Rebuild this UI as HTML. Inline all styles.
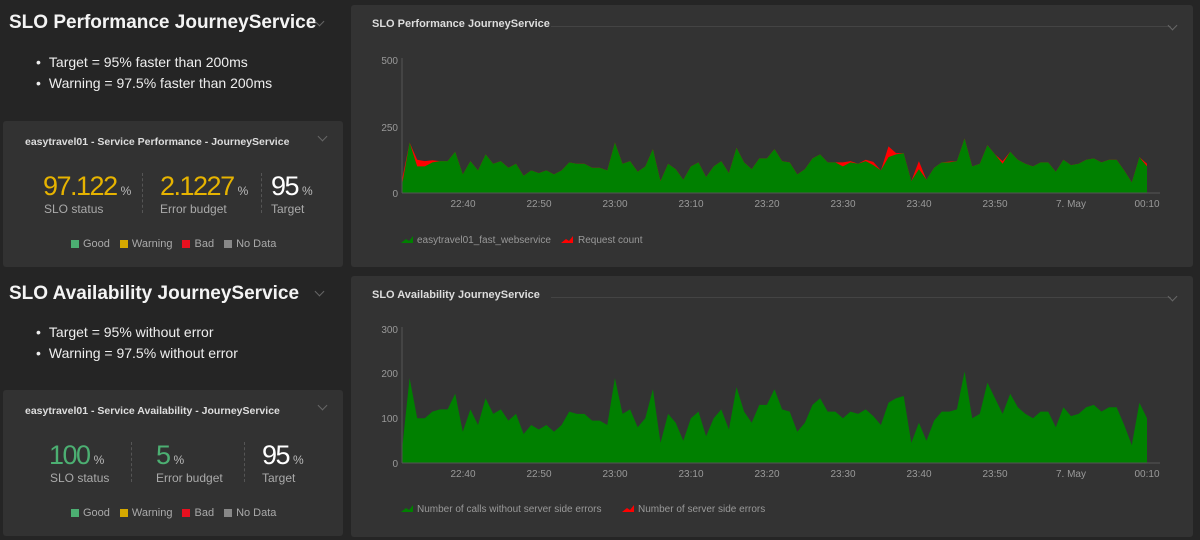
<!DOCTYPE html>
<html><head><meta charset="utf-8">
<style>
*{margin:0;padding:0;box-sizing:border-box}
body{width:1200px;height:540px;background:#252525;font-family:"Liberation Sans",sans-serif;color:#fff;position:relative;overflow:hidden}
.abs{position:absolute}
.h{font-size:19px;font-weight:bold;left:9px;color:#f4f4f4}
.bul{left:36px;font-size:14px;line-height:21px;color:#eee}
.bul div::before{content:"•";margin-right:8px}
.tile{left:3px;width:340px;height:146px;background:#323232;border-radius:3px}
.tt{position:absolute;left:22px;top:15px;font-size:10.5px;font-weight:bold;color:#ddd}
.num{position:absolute;font-size:27px;letter-spacing:-1.5px}
.num span{font-size:12px;color:#bbb;margin-left:4px;letter-spacing:0}
.lab{position:absolute;font-size:12px;color:#aaa}
.sep{position:absolute;width:0;height:40px;border-left:1px dashed #555}
.leg{position:absolute;top:117px;left:68px;font-size:11px;color:#aaa}
.leg i{display:inline-block;width:8px;height:8px;margin:0 4px 0 0;vertical-align:-1px}
.leg b{font-weight:normal;margin-right:10px}
.panel{left:351px;width:842px;background:#333;border-radius:3px}
.ptitle{position:absolute;left:21px;top:13px;font-size:11px;font-weight:bold;color:#ddd}
.chev{position:absolute;width:7px;height:7px;border-right:1px solid #666;border-bottom:1px solid #666;transform:rotate(45deg)}
</style></head><body>
<div class="abs h" style="top:12px">SLO Performance JourneyService</div>
<div class="chev" style="left:316px;top:18px"></div>
<div class="abs bul" style="top:52px"><div>Target = 95% faster than 200ms</div><div>Warning = 97.5% faster than 200ms</div></div>
<div class="abs tile" style="top:121px">
 <div class="tt">easytravel01 - Service Performance - JourneyService</div>
 <div class="chev" style="left:316px;top:12px"></div>
 <div class="num" style="left:40px;top:50px;color:#e6b300">97.122<span>%</span></div>
 <div class="lab" style="left:41px;top:81px">SLO status</div>
 <div class="sep" style="left:139px;top:52px"></div>
 <div class="num" style="left:157px;top:50px;color:#e6b300">2.1227<span>%</span></div>
 <div class="lab" style="left:157px;top:81px">Error budget</div>
 <div class="sep" style="left:258px;top:52px"></div>
 <div class="num" style="left:268px;top:50px;color:#fff">95<span>%</span></div>
 <div class="lab" style="left:268px;top:81px">Target</div>
 <div class="leg"><i style="background:#4caf72"></i><b>Good</b><i style="background:#d4a800"></i><b>Warning</b><i style="background:#e8101f"></i><b>Bad</b><i style="background:#888"></i><b>No Data</b></div>
</div>

<div class="abs h" style="top:283px">SLO Availability JourneyService</div>
<div class="chev" style="left:316px;top:288px"></div>
<div class="abs bul" style="top:322px"><div>Target = 95% without error</div><div>Warning = 97.5% without error</div></div>
<div class="abs tile" style="top:390px">
 <div class="tt">easytravel01 - Service Availability - JourneyService</div>
 <div class="chev" style="left:316px;top:12px"></div>
 <div class="num" style="left:46px;top:50px;color:#4caf72">100<span>%</span></div>
 <div class="lab" style="left:47px;top:81px">SLO status</div>
 <div class="sep" style="left:128px;top:52px"></div>
 <div class="num" style="left:153px;top:50px;color:#4caf72">5<span>%</span></div>
 <div class="lab" style="left:153px;top:81px">Error budget</div>
 <div class="sep" style="left:241px;top:52px"></div>
 <div class="num" style="left:259px;top:50px;color:#fff">95<span>%</span></div>
 <div class="lab" style="left:259px;top:81px">Target</div>
 <div class="leg"><i style="background:#4caf72"></i><b>Good</b><i style="background:#d4a800"></i><b>Warning</b><i style="background:#e8101f"></i><b>Bad</b><i style="background:#888"></i><b>No Data</b></div>
</div>

<div class="abs panel" style="top:5px;height:262px">
 <div class="ptitle">SLO Performance JourneyService</div>
 <div class="abs" style="left:200px;top:21px;width:620px;border-top:1px solid #444"></div>
 <div class="chev" style="left:818px;top:17px"></div>
</div>
<div class="abs panel" style="top:276px;height:261px">
 <div class="ptitle">SLO Availability JourneyService</div>
 <div class="abs" style="left:200px;top:21px;width:620px;border-top:1px solid #444"></div>
 <div class="chev" style="left:818px;top:17px"></div>
</div>

<svg class="abs" style="left:0;top:0" width="1200" height="540" font-family="Liberation Sans, sans-serif" font-size="10" fill="#999">
 <g id="c1"></g><g id="c2"></g>
 <g text-anchor="end">
  <text x="398" y="64">500</text><text x="398" y="131">250</text><text x="398" y="197">0</text>
  <text x="398" y="333">300</text><text x="398" y="377">200</text><text x="398" y="422">100</text><text x="398" y="467">0</text>
 </g>
 <g text-anchor="middle" id="xt"></g>
 <line x1="402" y1="58" x2="402" y2="193" stroke="#555"/>
 <line x1="402" y1="193" x2="1160" y2="193" stroke="#555"/>
 <line x1="402" y1="327" x2="402" y2="463" stroke="#555"/>
 <line x1="402" y1="463" x2="1160" y2="463" stroke="#555"/>
 <g font-size="10" fill="#999">
  <path d="M401 243 l5 -4 3 2 4 -5 v7z" fill="#008000"/><text x="417" y="243">easytravel01_fast_webservice</text>
  <path d="M561 243 l5 -4 3 2 4 -5 v7z" fill="#f00"/><text x="578" y="243">Request count</text>
  <path d="M401 512 l5 -4 3 2 4 -5 v7z" fill="#008000"/><text x="417" y="512">Number of calls without server side errors</text>
  <path d="M622 512 l5 -4 3 2 4 -5 v7z" fill="#f00"/><text x="638" y="512">Number of server side errors</text>
 </g>
</svg>
<script>
var v=[30,190,100,100,115,120,120,155,70,120,85,145,110,120,95,110,65,85,75,85,70,85,115,110,110,95,95,85,190,110,120,80,100,165,45,110,90,50,100,115,60,100,120,75,170,115,90,130,130,165,120,115,70,90,130,145,115,115,100,115,110,120,105,85,135,145,150,45,90,50,95,115,115,120,205,100,110,180,145,110,155,125,110,100,115,115,80,125,105,110,125,130,115,125,125,85,40,135,100];
var ex={0:20,2:25,3:20,4:8,58:15,59:5,61:5,62:12,64:40,65:5,68:30,72:3,79:10,98:10};
var n=v.length,x0=402,x1=1147;
function X(i){return x0+(x1-x0)*i/(n-1)}
function poly(base,sc,add){var p=x0+","+base+" ";for(var i=0;i<n;i++){p+=X(i).toFixed(1)+","+(base-(v[i]+(add?(ex[i]||0):0))*sc).toFixed(1)+" ";}return p+x1+","+base;}
var ns="http://www.w3.org/2000/svg";
function add(g,pts,c){var e=document.createElementNS(ns,"polygon");e.setAttribute("points",pts);e.setAttribute("fill",c);document.getElementById(g).appendChild(e);}
add("c1",poly(193,133/500,1),"#f00");add("c1",poly(193,133/500,0),"#008000");
add("c2",poly(463,134/300,0),"#008000");
var lab=["22:40","22:50","23:00","23:10","23:20","23:30","23:40","23:50","7. May","00:10"];
var xt=document.getElementById("xt");
lab.forEach(function(l,i){[207,477].forEach(function(y){var t=document.createElementNS(ns,"text");t.setAttribute("x",463+i*76);t.setAttribute("y",y);t.textContent=l;xt.appendChild(t);});});
</script>
</body></html>
